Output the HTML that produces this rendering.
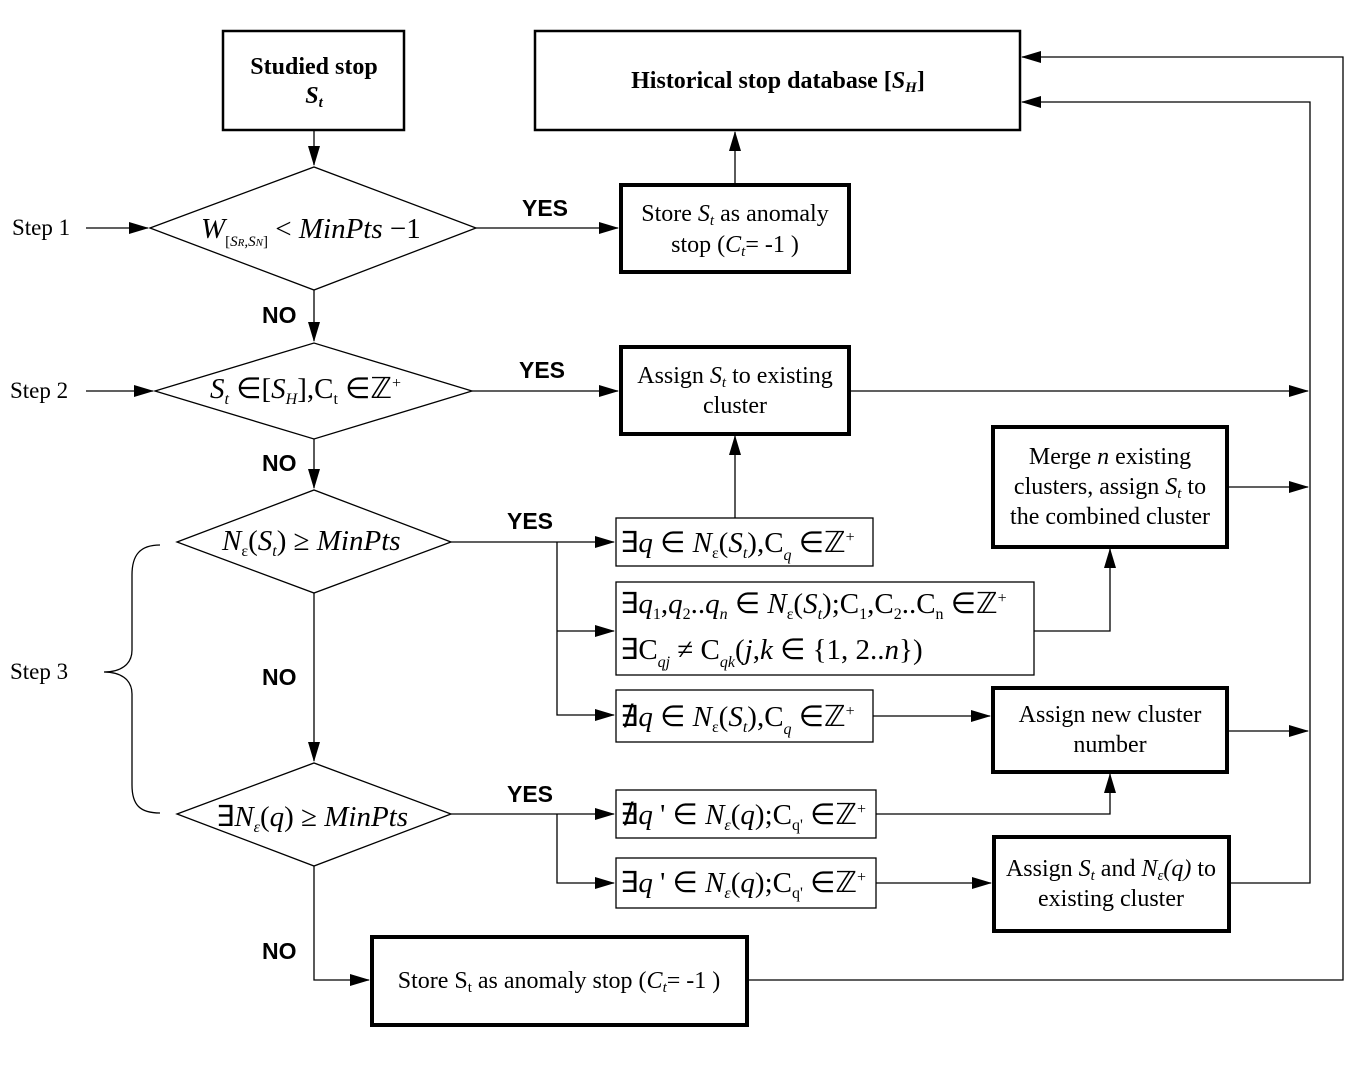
<!DOCTYPE html>
<html><head><style>body{margin:0;background:#fff}svg{display:block}</style></head><body>
<svg width="1371" height="1069" viewBox="0 0 1371 1069" xmlns="http://www.w3.org/2000/svg" font-family="Liberation Serif, serif" font-size="24">
<defs>
<marker id="b" markerWidth="20" markerHeight="12" refX="19" refY="6" orient="auto" markerUnits="userSpaceOnUse"><path d="M0,0 L20,6 L0,12z"/></marker></defs>
<g fill="none" stroke="#000" stroke-width="1.3">
<path d="M314,130V165" marker-end="url(#b)"/>
<path d="M314,290V341" marker-end="url(#b)"/>
<path d="M314,439V488" marker-end="url(#b)"/>
<path d="M314,593V761" marker-end="url(#b)"/>
<path d="M314,866V980H369" marker-end="url(#b)"/>
<path d="M86,228H148" marker-end="url(#b)"/>
<path d="M86,391H153" marker-end="url(#b)"/>
<path d="M476,228H618" marker-end="url(#b)"/>
<path d="M472,391H618" marker-end="url(#b)"/>
<path d="M735,184V132" marker-end="url(#b)"/>
<path d="M735,518V436" marker-end="url(#b)"/>
<path d="M451,542H614" marker-end="url(#b)"/>
<path d="M557,542V715H614" marker-end="url(#b)"/>
<path d="M557,631H614" marker-end="url(#b)"/>
<path d="M451,814H614" marker-end="url(#b)"/>
<path d="M557,814V883H614" marker-end="url(#b)"/>
<path d="M1034,631H1110V549" marker-end="url(#b)"/>
<path d="M876,814H1110V774" marker-end="url(#b)"/>
<path d="M873,716H990" marker-end="url(#b)"/>
<path d="M876,883H991" marker-end="url(#b)"/>
<path d="M849,391H1308" marker-end="url(#b)"/>
<path d="M1227,487H1308" marker-end="url(#b)"/>
<path d="M1227,731H1308" marker-end="url(#b)"/>
<path d="M1229,883H1310V102H1022" marker-end="url(#b)"/>
<path d="M747,980H1343V57H1022" marker-end="url(#b)"/>
<path d="M160,545C140,545 132,555 132,575V650C132,665 120,672 104,672C120,672 132,679 132,694V785C132,805 140,813 160,813"/>
<polygon points="150,228 314,167 476,228 314,290"/>
<polygon points="155,391 314,343 472,391 314,439"/>
<polygon points="177,542 314,490 451,542 314,593"/>
<polygon points="177,814 314,763 451,814 314,866"/>
<rect x="616" y="518" width="257" height="48"/>
<rect x="616" y="582" width="418" height="93"/>
<rect x="616" y="690" width="257" height="52"/>
<rect x="616" y="790" width="260" height="48"/>
<rect x="616" y="858" width="260" height="50"/>
<g stroke-width="2.5"><rect x="223" y="31" width="181" height="99"/><rect x="535" y="31" width="485" height="99"/></g>
<g stroke-width="4"><rect x="621" y="185" width="228" height="87"/><rect x="621" y="347" width="228" height="87"/><rect x="993" y="427" width="234" height="120"/><rect x="993" y="688" width="234" height="84"/><rect x="994" y="837" width="235" height="94"/><rect x="372" y="937" width="375" height="88"/></g>
</g>
<g text-anchor="middle">
<text x="314" y="74" font-weight="bold">Studied stop</text>
<text x="314" y="103" font-weight="bold" font-style="italic">S<tspan font-size="15" dy="4">t</tspan></text>
<text x="778" y="88" font-weight="bold">Historical stop database [<tspan font-style="italic">S<tspan font-size="15" dy="4">H</tspan></tspan><tspan dy="-4">]</tspan></text>
<text x="735" y="221">Store <tspan font-style="italic">S<tspan font-size="15" dy="4">t</tspan></tspan><tspan dy="-4"> as anomaly</tspan></text>
<text x="735" y="252">stop (<tspan font-style="italic">C<tspan font-size="15" dy="4">t</tspan></tspan><tspan dy="-4">= -1 )</tspan></text>
<text x="735" y="383">Assign <tspan font-style="italic">S<tspan font-size="15" dy="4">t</tspan></tspan><tspan dy="-4"> to existing</tspan></text>
<text x="735" y="413">cluster</text>
<text x="1110" y="464">Merge <tspan font-style="italic">n</tspan> existing</text>
<text x="1110" y="494">clusters, assign <tspan font-style="italic">S<tspan font-size="15" dy="4">t</tspan></tspan><tspan dy="-4"> to</tspan></text>
<text x="1110" y="524">the combined cluster</text>
<text x="1110" y="722">Assign new cluster</text>
<text x="1110" y="752">number</text>
<text x="1111" y="876">Assign <tspan font-style="italic">S<tspan font-size="15" dy="4">t</tspan></tspan><tspan dy="-4"> and </tspan><tspan font-style="italic">N<tspan font-size="15" dy="4">ε</tspan><tspan dy="-4">(q)</tspan></tspan> to</text>
<text x="1111" y="906">existing cluster</text>
<text x="559" y="988">Store S<tspan font-size="15" dy="4">t</tspan><tspan dy="-4"> as anomaly stop (</tspan><tspan font-style="italic">C<tspan font-size="15" dy="4">t</tspan></tspan><tspan dy="-4">= -1 )</tspan></text>
</g>
<g font-family="Liberation Sans, sans-serif" font-weight="bold" font-size="23">
<text x="522" y="216">YES</text><text x="519" y="378">YES</text><text x="507" y="529">YES</text><text x="507" y="802">YES</text>
<text x="262" y="323">NO</text><text x="262" y="471">NO</text><text x="262" y="685">NO</text><text x="262" y="959">NO</text>
</g>
<g font-size="23"><text x="12" y="235">Step 1</text><text x="10" y="398">Step 2</text><text x="10" y="679">Step 3</text></g>
<g font-size="29">
<text x="201" y="238"><tspan font-style="italic">W</tspan><tspan font-size="15" dy="8">[<tspan font-style="italic">S<tspan font-size="11">R</tspan>,S<tspan font-size="11">N</tspan></tspan>]</tspan><tspan dy="-8"> &lt; </tspan><tspan font-style="italic">MinPts</tspan> −1</text>
<text x="210" y="398"><tspan font-style="italic">S</tspan><tspan font-size="16" dy="6" font-style="italic">t</tspan><tspan dy="-6"> ∈[</tspan><tspan font-style="italic">S</tspan><tspan font-size="16" dy="6" font-style="italic">H</tspan><tspan dy="-6">],C</tspan><tspan font-size="16" dy="6">t</tspan><tspan dy="-6"> ∈ℤ</tspan><tspan font-size="16" dy="-10">+</tspan></text>
<text x="222" y="550"><tspan font-style="italic">N</tspan><tspan font-size="16" dy="6">ε</tspan><tspan dy="-6">(</tspan><tspan font-style="italic">S</tspan><tspan font-size="16" dy="6" font-style="italic">t</tspan><tspan dy="-6">) ≥ </tspan><tspan font-style="italic">MinPts</tspan></text>
<text x="216" y="826">∃<tspan font-style="italic">N</tspan><tspan font-size="16" dy="6" font-style="italic">ε</tspan><tspan dy="-6">(</tspan><tspan font-style="italic">q</tspan>) ≥ <tspan font-style="italic">MinPts</tspan></text>
<text x="620" y="552">∃<tspan font-style="italic">q</tspan> ∈ <tspan font-style="italic">N</tspan><tspan font-size="16" dy="6">ε</tspan><tspan dy="-6">(</tspan><tspan font-style="italic">S</tspan><tspan font-size="16" dy="6" font-style="italic">t</tspan><tspan dy="-6">),C</tspan><tspan font-size="16" dy="8" font-style="italic">q</tspan><tspan dy="-8"> ∈ℤ</tspan><tspan font-size="16" dy="-10">+</tspan></text>
<text x="620" y="613">∃<tspan font-style="italic">q</tspan><tspan font-size="16" dy="6">1</tspan><tspan dy="-6">,</tspan><tspan font-style="italic">q</tspan><tspan font-size="16" dy="6">2</tspan><tspan dy="-6">..</tspan><tspan font-style="italic">q</tspan><tspan font-size="16" dy="6" font-style="italic">n</tspan><tspan dy="-6"> ∈ </tspan><tspan font-style="italic">N</tspan><tspan font-size="16" dy="6">ε</tspan><tspan dy="-6">(</tspan><tspan font-style="italic">S</tspan><tspan font-size="16" dy="6" font-style="italic">t</tspan><tspan dy="-6">);C</tspan><tspan font-size="16" dy="6">1</tspan><tspan dy="-6">,C</tspan><tspan font-size="16" dy="6">2</tspan><tspan dy="-6">..C</tspan><tspan font-size="16" dy="6">n</tspan><tspan dy="-6"> ∈ℤ</tspan><tspan font-size="16" dy="-10">+</tspan></text>
<text x="620" y="659">∃C<tspan font-size="16" dy="8" font-style="italic">qj</tspan><tspan dy="-8"> ≠ C</tspan><tspan font-size="16" dy="8" font-style="italic">qk</tspan><tspan dy="-8">(</tspan><tspan font-style="italic">j</tspan>,<tspan font-style="italic">k</tspan> ∈ {1, 2..<tspan font-style="italic">n</tspan>})</text>
<text x="620" y="726">∄<tspan font-style="italic">q</tspan> ∈ <tspan font-style="italic">N</tspan><tspan font-size="16" dy="6">ε</tspan><tspan dy="-6">(</tspan><tspan font-style="italic">S</tspan><tspan font-size="16" dy="6" font-style="italic">t</tspan><tspan dy="-6">),C</tspan><tspan font-size="16" dy="8" font-style="italic">q</tspan><tspan dy="-8"> ∈ℤ</tspan><tspan font-size="16" dy="-10">+</tspan></text>
<text x="620" y="824">∄<tspan font-style="italic">q</tspan> ' ∈ <tspan font-style="italic">N</tspan><tspan font-size="16" dy="6" font-style="italic">ε</tspan><tspan dy="-6">(</tspan><tspan font-style="italic">q</tspan>);C<tspan font-size="16" dy="6">q'</tspan><tspan dy="-6"> ∈ℤ</tspan><tspan font-size="16" dy="-10">+</tspan></text>
<text x="620" y="892">∃<tspan font-style="italic">q</tspan> ' ∈ <tspan font-style="italic">N</tspan><tspan font-size="16" dy="6" font-style="italic">ε</tspan><tspan dy="-6">(</tspan><tspan font-style="italic">q</tspan>);C<tspan font-size="16" dy="6">q'</tspan><tspan dy="-6"> ∈ℤ</tspan><tspan font-size="16" dy="-10">+</tspan></text>
</g>
</svg>
</body></html>
